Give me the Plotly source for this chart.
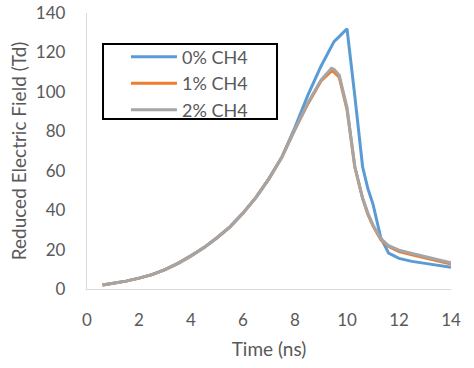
import plotly.graph_objects as go

time_ns = [0.6, 1, 1.5, 2, 2.5, 3, 3.5, 4, 4.5, 5, 5.5, 6, 6.5, 7, 7.5, 8, 8.5, 9, 9.4, 9.5, 9.7, 10,
           10.3, 10.6, 10.8, 11, 11.3, 11.6, 12, 12.5, 13, 13.5, 14]

ch4_0 = [2.0, 2.8, 4.0, 5.5, 7.3, 9.8, 13.0, 16.8, 21.0, 26.0, 31.5, 38.5, 46.5, 56.0, 67.0, 82.0, 98.5, 113.0,
         123.0, 125.5, 128.0, 132.0, 98.0, 62.0, 51.0, 43.0, 26.0, 18.2, 15.5, 14.0, 13.0, 12.0, 11.0]
ch4_1 = [2.0, 2.8, 4.0, 5.5, 7.3, 9.8, 13.0, 16.8, 21.0, 26.0, 31.5, 38.5, 46.5, 56.0, 67.0, 81.0, 94.0, 105.5,
         110.5, 110.0, 107.5, 91.0, 62.0, 46.0, 38.0, 32.0, 25.0, 21.5, 19.0, 17.3, 15.8, 14.3, 12.7]
ch4_2 = [2.0, 2.8, 4.0, 5.5, 7.3, 9.8, 13.0, 16.8, 21.0, 26.0, 31.5, 38.5, 46.5, 56.0, 67.0, 81.0, 94.5, 106.0,
         112.0, 111.5, 108.5, 92.0, 62.0, 46.0, 38.5, 32.5, 25.5, 22.0, 19.7, 18.0, 16.5, 15.0, 13.3]

series_names = ["0% CH4", "1% CH4", "2% CH4"]
series_values = [ch4_0, ch4_1, ch4_2]
series_colors = ["#5B9BD5", "#ED7D31", "#A5A5A5"]

x_ticks = [0, 2, 4, 6, 8, 10, 12, 14]
y_ticks = [0, 20, 40, 60, 80, 100, 120, 140]

FONT = "Lato"
TXT = "#595959"

fig = go.Figure()
for name, vals, col in zip(series_names, series_values, series_colors):
    fig.add_trace(go.Scatter(x=time_ns, y=vals, mode="lines", name=name,
                             line=dict(color=col, width=3)))

fig.update_layout(
    width=474, height=368,
    margin=dict(l=87, r=23, t=13, b=79),
    paper_bgcolor="white", plot_bgcolor="white",
    font=dict(family=FONT, color=TXT, size=17),
    showlegend=True,
    legend=dict(x=0.107, y=0.907, xanchor="left", yanchor="top",
                bgcolor="rgba(0,0,0,0)", borderwidth=0,
                font=dict(family=FONT, size=18, color=TXT),
                tracegroupgap=0, itemwidth=46),
    shapes=[dict(type="rect", xref="paper", yref="paper",
                 x0=0.044, x1=0.522, y0=0.616, y1=0.888,
                 line=dict(color="black", width=2), fillcolor="rgba(0,0,0,0)", layer="below")],
)
fig.update_xaxes(range=[0, 14], tickvals=x_ticks, showgrid=False, zeroline=False,
                 showline=True, linecolor="#D9D9D9", linewidth=1.3, automargin=False,
                 ticks="", ticklabelstandoff=15, tickfont=dict(size=17, color=TXT),
                 title=dict(text="Time (ns)", font=dict(size=19, color=TXT), standoff=14))
fig.update_yaxes(range=[0, 140], tickvals=y_ticks, showgrid=False, zeroline=False,
                 showline=True, linecolor="#D9D9D9", linewidth=1.3, automargin=False,
                 ticks="", ticklabelstandoff=17, tickfont=dict(size=17, color=TXT),
                 title=dict(text="Reduced Electric Field (Td)", font=dict(size=19, color=TXT), standoff=4))

fig.write_html("out.html", config={"displayModeBar": False},
               post_script="document.body.style.margin='0px';")
